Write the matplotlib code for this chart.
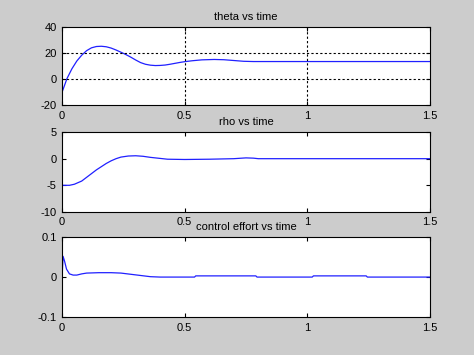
import matplotlib
matplotlib.use("Agg")
import matplotlib.pyplot as plt

plt.rcParams['font.family'] = ['Liberation Sans', 'DejaVu Sans']
plt.rcParams['font.size'] = 8
plt.rcParams['axes.unicode_minus'] = False

# theta vs time
theta_t = [0, 0.02, 0.04, 0.06, 0.08, 0.10, 0.12, 0.14, 0.16, 0.18, 0.20, 0.22,
           0.24, 0.26, 0.28, 0.30, 0.32, 0.34, 0.36, 0.38, 0.40, 0.42, 0.44,
           0.46, 0.48, 0.50, 0.53, 0.57, 0.62, 0.66, 0.70, 0.74, 0.78, 0.90, 1.5]
theta_v = [-10, 0.5, 8, 14, 18.5, 22, 24.2, 25.2, 25.4, 25, 24, 22.5,
           20.8, 19, 17, 14.8, 12.8, 11.5, 10.8, 10.5, 10.6, 10.9, 11.5,
           12.2, 12.9, 13.5, 14.2, 14.9, 15.2, 15.0, 14.4, 13.8, 13.6, 13.6, 13.6]

# rho vs time
rho_t = [0, 0.03, 0.05, 0.08, 0.10, 0.12, 0.14, 0.16, 0.18, 0.20, 0.22, 0.24,
         0.27, 0.30, 0.33, 0.36, 0.40, 0.43, 0.50, 0.60, 0.70, 0.75, 0.78, 0.80, 1.5]
rho_v = [-5, -5, -4.8, -4.2, -3.5, -2.8, -2.1, -1.5, -0.9, -0.4, 0, 0.3,
         0.5, 0.55, 0.45, 0.25, 0.05, -0.1, -0.15, -0.1, 0, 0.15, 0.1, 0, 0]

# control effort vs time
u_t = [0, 0.004, 0.01, 0.018, 0.03, 0.045, 0.06, 0.08, 0.10, 0.15, 0.20, 0.24,
       0.28, 0.32, 0.36, 0.40, 0.54, 0.545, 0.79, 0.795, 1.02, 1.025, 1.24, 1.245, 1.5]
u_v = [0, 0.052, 0.04, 0.02, 0.008, 0.005, 0.005, 0.008, 0.01, 0.011, 0.011, 0.01,
       0.007, 0.004, 0.001, 0, 0, 0.003, 0.003, 0, 0, 0.003, 0.003, 0, 0]

titles = ['theta vs time', 'rho vs time', 'control effort vs time']
x_ticks = [0, 0.5, 1, 1.5]
x_labels = ['0', '0.5', '1', '1.5']
y_ticks = [[-20, 0, 20, 40], [-10, -5, 0, 5], [-0.1, 0, 0.1]]
y_labels = [['-20', '0', '20', '40'], ['-10', '-5', '0', '5'], ['-0.1', '0', '0.1']]
y_lims = [(-20, 40), (-10, 5), (-0.1, 0.1)]
series = [(theta_t, theta_v), (rho_t, rho_v), (u_t, u_v)]

fig = plt.figure(figsize=(4.74, 3.55), dpi=100, facecolor='#cccccc')
positions = [[0.131, 0.704, 0.776, 0.219],
             [0.131, 0.403, 0.776, 0.225],
             [0.131, 0.107, 0.776, 0.225]]

for i in range(3):
    ax = fig.add_axes(positions[i])
    ax.set_facecolor('white')
    t, v = series[i]
    ax.plot(t, v, color='#2020ff', lw=0.9)
    ax.set_xlim(0, 1.5)
    ax.set_ylim(*y_lims[i])
    ax.set_xticks(x_ticks)
    ax.set_xticklabels(x_labels)
    ax.set_yticks(y_ticks[i])
    ax.set_yticklabels(y_labels[i])
    ax.tick_params(direction='in', length=3, width=0.8, top=True, right=True,
                   labelsize=8, pad=4)
    for s in ax.spines.values():
        s.set_linewidth(0.8)
    ax.set_title(titles[i], fontsize=8, pad=5)
    if i == 0:
        for gx in [0.5, 1]:
            ax.axvline(gx, color='black', lw=0.8, linestyle=(0, (2, 2)))
        for gy in [0, 20]:
            ax.axhline(gy, color='black', lw=0.8, linestyle=(0, (2, 2)))

fig.savefig('out.png', dpi=100, facecolor=fig.get_facecolor())
